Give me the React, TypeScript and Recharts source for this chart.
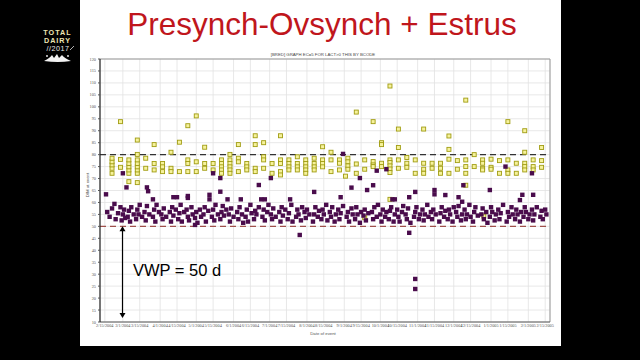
import React from "react";
import { ScatterChart, Scatter, XAxis, YAxis, CartesianGrid, ReferenceLine } from "recharts";

// Days since 2/15/2004 for each x tick
const xTickDays = [0, 15, 29, 46, 60, 76, 90, 107, 121, 137, 151, 168, 182, 199, 213, 229, 243, 260, 274, 290, 304, 321, 335, 352, 366];
const xTickLabels = [
  "2/15/2004", "3/1/2004", "3/15/2004", "4/1/2004", "4/15/2004", "5/1/2004", "5/15/2004",
  "6/1/2004", "6/15/2004", "7/1/2004", "7/15/2004", "8/1/2004", "8/15/2004", "9/1/2004",
  "9/15/2004", "10/1/2004", "10/15/2004", "11/1/2004", "11/15/2004", "12/1/2004", "12/15/2004",
  "1/1/2005", "1/15/2005", "2/1/2005", "2/15/2005",
];
const yTicks = [10, 15, 20, 25, 30, 35, 40, 45, 50, 55, 60, 65, 70, 75, 80, 85, 90, 95, 100, 105, 110, 115, 120];

const VWP_DIM = 50;
const TIMED_AI_LIMIT = 80;

// Timed AI breedings (yellow open squares): [day, DIM]
const timedAI: [number, number][] = [
  [6, 72.2], [6, 74.3], [6, 75.7], [6, 77], [6, 78.5],
  [13, 74.7], [13, 78], [13, 93.8],
  [20, 68.7], [20, 72.2], [20, 73.6], [20, 74.9], [20, 76.3], [20, 77.8],
  [27, 68.3], [27, 72.2], [27, 73.6], [27, 74.9], [27, 76.3], [27, 77.8], [27, 80.1], [27, 86.1],
  [34, 78.5], [34, 74.3],
  [41, 84.2], [41, 76.3], [41, 73.6],
  [48, 76.3], [48, 74.9], [48, 72.9],
  [55, 81], [55, 74.3], [55, 72.9],
  [62, 85.2], [62, 72.9],
  [69, 92.1], [69, 77.8], [69, 76.3], [69, 72.9],
  [76, 96.2], [76, 77], [76, 72.9],
  [83, 83.1], [83, 76.3], [83, 74.3],
  [90, 76.3], [90, 73.6],
  [97, 77.8], [97, 76.3], [97, 74.9], [97, 73.6], [97, 72.2],
  [104, 80.1], [104, 77.8], [104, 76.3], [104, 74.9], [104, 73.6], [104, 72.2],
  [111, 84.2], [111, 78.5], [111, 77], [111, 72.9],
  [118, 76.3], [118, 74.9], [118, 73.6],
  [125, 87.9], [125, 84.2], [125, 74.3], [125, 72.9],
  [132, 85], [132, 79.1], [132, 77.8], [132, 74.3],
  [139, 76.3], [139, 72.2],
  [146, 87.9], [146, 77.8], [146, 76.3], [146, 72.9], [146, 71.5],
  [153, 77.8], [153, 76.3], [153, 74.9], [153, 73.6],
  [160, 79.1], [160, 76.3], [160, 74.9], [160, 73.6],
  [167, 77.8], [167, 76.3], [167, 74.9], [167, 73.6], [167, 72.2],
  [174, 78.5], [174, 76.3], [174, 74.9], [174, 73.6],
  [181, 83.3], [181, 77.8], [181, 76.3], [181, 74.9],
  [188, 81], [188, 77.8], [188, 72.9],
  [195, 77.8], [195, 76.4], [195, 73.6],
  [200, 71],
  [202, 78.5], [202, 77], [202, 75.3], [202, 73.9],
  [209, 97.8], [209, 76.1], [209, 72.2],
  [216, 77.8], [216, 73.9], [216, 53.6],
  [223, 93.8], [223, 77.1], [223, 75.7], [223, 75],
  [230, 85], [230, 84.2], [230, 76.4], [230, 75],
  [237, 108.7], [237, 77.8], [237, 76.7], [237, 75.3], [237, 74], [237, 72.5], [237, 61.3],
  [244, 90.7], [244, 83], [244, 77.8], [244, 74.3],
  [251, 78.8], [251, 76.4], [251, 74.7],
  [258, 77.8], [258, 72.2],
  [265, 90.7], [265, 76.4], [265, 73.9], [265, 72.2],
  [272, 76.4], [272, 74.3],
  [279, 76.4], [279, 74.3], [279, 72.2],
  [286, 87.8], [286, 82.2], [286, 78.1], [286, 72.2],
  [293, 77.5], [293, 73.9],
  [300, 102.8], [300, 77.8], [300, 75], [300, 72.2], [300, 67.2],
  [307, 80], [307, 75],
  [314, 77.8], [314, 76.4], [314, 74.3], [314, 73.6], [315, 54.3],
  [321, 78.1], [321, 74.7], [321, 73.9],
  [328, 77.5], [328, 72.2],
  [335, 93.8], [335, 77.8], [335, 73.6], [335, 72.2],
  [342, 76.4], [342, 72.2],
  [349, 90], [349, 81], [349, 76.4], [349, 75], [349, 73.6],
  [356, 77.8], [356, 75], [356, 73.6],
  [363, 83], [363, 77.5], [363, 74.7],
];

// Estrus breedings (purple filled squares): [day, DIM]
const estrusAI: [number, number][] = [
  [2, 56], [4, 54], [6, 57.5], [8, 59.4], [9, 53], [11, 55.5],
  [13, 58], [14, 52.5], [15, 55], [16, 57], [17, 53.5],
  [19, 54], [20, 56.5], [21, 52], [22, 58], [24, 55],
  [26, 53], [27, 57], [28, 55], [29, 59], [31, 54],
  [33, 56], [34, 52.5], [35, 58.5], [37, 55],
  [40, 54], [41, 57], [42, 52], [43, 59], [45, 56],
  [47, 55], [48, 53], [49, 57.5], [51, 54],
  [54, 56], [55, 52], [56, 58], [57, 54.5], [59, 57],
  [61, 53], [62, 55.5], [63, 59], [64, 52], [66, 56],
  [68, 57], [69, 54], [70, 52.5], [72, 58], [73, 55],
  [75, 53.5], [76, 56], [77, 51.5], [79, 57], [80, 54],
  [82, 55], [83, 58], [84, 52], [86, 56.5],
  [89, 54], [90, 57], [91, 52.5], [92, 59], [94, 55],
  [96, 53], [97, 56], [98, 58.5], [99, 54.5], [101, 57],
  [103, 55], [104, 52], [105, 57.5], [107, 54],
  [110, 56], [111, 53], [112, 58], [114, 55], [115, 51.5],
  [117, 54], [118, 57], [119, 52], [121, 59], [122, 55.5],
  [124, 53], [125, 56.5], [126, 55], [128, 58],
  [131, 54], [132, 57], [133, 52.5], [135, 56], [136, 59],
  [138, 55], [139, 53], [140, 57.5], [142, 54],
  [145, 56], [146, 52], [147, 58], [148, 54.5], [150, 57],
  [152, 53], [153, 55.5], [155, 59], [156, 52],
  [159, 54], [160, 57], [161, 55], [163, 52.5], [164, 58],
  [166, 56], [167, 53.5], [168, 57], [170, 55],
  [173, 52], [174, 55], [175, 58], [177, 54], [178, 56.5],
  [180, 53], [181, 57], [182, 55], [184, 59], [185, 52.5],
  [187, 56], [188, 54], [189, 58], [191, 52], [192, 55],
  [194, 57], [195, 53], [196, 55.5], [198, 58.5],
  [201, 54], [202, 56], [203, 52], [205, 57.5], [206, 55],
  [208, 53], [209, 58], [210, 55], [212, 51.5], [213, 56],
  [215, 54.5], [216, 57], [217, 52.5], [219, 55.5],
  [222, 56], [223, 53], [224, 58], [226, 54], [227, 59],
  [229, 55], [230, 52], [231, 57], [233, 54], [234, 56],
  [236, 53], [237, 56.5], [238, 58], [240, 52], [241, 55],
  [243, 57], [244, 54], [245, 52], [247, 56], [248, 58.5],
  [250, 55], [251, 53], [252, 57.5], [254, 51.5],
  [257, 54], [258, 56], [259, 58], [261, 53], [262, 55],
  [264, 57], [265, 52.5], [266, 55], [268, 59], [269, 54],
  [271, 56], [272, 53], [273, 57], [275, 55],
  [278, 52], [279, 55.5], [280, 58], [282, 54], [283, 56.5],
  [285, 53], [286, 57], [287, 55], [289, 52], [290, 58],
  [292, 56], [293, 54], [294, 58.5], [296, 52.5], [297, 55],
  [299, 57], [300, 53], [301, 55], [303, 59], [304, 54],
  [306, 52], [307, 56], [308, 58], [310, 54.5],
  [313, 55], [314, 57.5], [315, 53], [317, 56], [318, 51.5],
  [320, 54], [321, 58], [322, 56], [324, 52.5], [325, 55],
  [327, 57], [328, 53], [329, 55.5], [331, 59],
  [334, 52], [335, 56], [336, 54], [338, 58], [339, 55],
  [341, 53], [342, 57], [343, 55], [345, 52], [346, 56],
  [348, 54], [349, 58], [350, 56], [352, 53], [353, 55],
  [355, 57], [356, 52.5], [357, 55], [359, 58],
  [362, 54], [363, 56.5], [364, 53], [366, 57], [367, 55],
  // outliers
  [1, 63.4], [15, 72.2], [18, 66.3], [35, 66.3], [36, 64.7], [40, 61.3], [57, 62.2], [60, 62.2],
  [69, 62.7], [69, 61.9], [75, 50.6], [87, 63.2], [87, 61.3], [90, 72.2], [96, 70.2], [96, 64.5],
  [102, 61.3], [113, 61.3], [128, 67.3], [130, 61.3], [133, 61.3], [138, 70.2], [154, 61.3],
  [162, 46.4], [174, 64.4], [196, 62.2], [198, 80.3], [205, 66.2], [212, 70.2], [218, 65.2],
  [223, 67.2], [226, 73.3], [234, 73.9], [239, 61.3], [241, 61.3], [253, 62.2], [253, 47.3],
  [258, 64.4], [258, 28], [258, 23.8], [274, 65.2], [274, 63.4], [283, 63.1], [294, 62.2],
  [297, 60.3], [298, 67.2], [320, 65.2], [333, 75], [345, 61], [347, 63.2], [355, 72.2], [356, 63.2],
];

const VWP_ARROW_DAY = 14.7;
const VWP_ARROW_BOTTOM = 11.7;

const timedData = timedAI.map(([day, dim]) => ({ day, dim }));
const estrusData = estrusAI.map(([day, dim]) => ({ day, dim }));

const YellowSquare = (p: any) => (
  <rect x={p.cx - 2} y={p.cy - 2} width={4} height={4} fill="#f6f29c" stroke="#a09c12" strokeWidth={0.9} />
);
const PurpleSquare = (p: any) => (
  <rect x={p.cx - 2.2} y={p.cy - 2.2} width={4.4} height={4.4} fill="#4a0c4c" />
);

const DoubleArrow = (p: any) => {
  const { x1, y1, x2, y2 } = p;
  return (
    <g>
      <line x1={x1} y1={y1 + 4} x2={x2} y2={y2 - 4} stroke="#000" strokeWidth={1.2} />
      <polygon points={`${x1},${y1} ${x1 - 3},${y1 + 5} ${x1 + 3},${y1 + 5}`} fill="#000" />
      <polygon points={`${x2},${y2} ${x2 - 3},${y2 - 5} ${x2 + 3},${y2 - 5}`} fill="#000" />
    </g>
  );
};

const tickFmt = (v: number) => {
  const i = xTickDays.indexOf(v);
  return i >= 0 ? xTickLabels[i] : "";
};

export default function App() {
  return (
    <div style={{ position: "absolute", left: 0, top: 0, width: 640, height: 360, background: "#000", overflow: "hidden" }}>
      <div style={{ position: "absolute", left: 80, top: 0, width: 481, height: 346, background: "#fff" }} />
      <div style={{ position: "absolute", left: 0, top: 0 }}>
        <ScatterChart width={640} height={360} margin={{ top: 59, right: 90, bottom: 24, left: 80 }}>
          <CartesianGrid stroke="#e2e2e2" strokeWidth={0.8} />
          <XAxis
            type="number"
            dataKey="day"
            domain={[-4, 370]}
            ticks={xTickDays}
            interval={0}
            tickFormatter={tickFmt}
            tick={{ fontSize: 4.3, fill: "#555" }}
            tickLine={false}
            tickSize={0}
            tickMargin={2}
            axisLine={{ stroke: "#555" }}
            height={14}
            allowDataOverflow
          />
          <YAxis
            type="number"
            dataKey="dim"
            domain={[10, 120]}
            ticks={yTicks}
            interval={0}
            tick={{ fontSize: 4.3, fill: "#555" }}
            tickLine={{ stroke: "#555" }}
            tickSize={2}
            axisLine={{ stroke: "#222", strokeWidth: 1.2 }}
            width={20}
            allowDataOverflow
          />
          <ReferenceLine y={120} stroke="#999" />
          <ReferenceLine x={370} stroke="#999" />
          <ReferenceLine y={TIMED_AI_LIMIT} stroke="#333" strokeWidth={1.4} strokeDasharray="6 4" />
          <ReferenceLine y={VWP_DIM} stroke="#a0504c" strokeWidth={1.4} strokeDasharray="6 4" />
          <Scatter data={timedData} shape={YellowSquare} isAnimationActive={false} />
          <Scatter data={estrusData} shape={PurpleSquare} isAnimationActive={false} />
          <ReferenceLine
            segment={[{ x: VWP_ARROW_DAY, y: VWP_DIM }, { x: VWP_ARROW_DAY, y: VWP_ARROW_BOTTOM }]}
            shape={DoubleArrow}
          />
        </ScatterChart>
      </div>
      <svg width={640} height={360} style={{ position: "absolute", left: 0, top: 0, pointerEvents: "none" }}>
        <text x={322} y={35} textAnchor="middle" fontFamily="Liberation Sans, Arial, sans-serif" fontSize={31.5} fill="#c0161c">
          Presynch-Ovsynch + Estrus
        </text>
        <text x={323} y={55.5} textAnchor="middle" fontFamily="Liberation Sans, Arial, sans-serif" fontSize={4.3} fill="#444">
          [BRED] GRAPH EC=5 FOR LACT&gt;0 THIS BY BCODE
        </text>
        <text x={323} y={335} textAnchor="middle" fontFamily="Liberation Sans, Arial, sans-serif" fontSize={4.3} fill="#555">
          Date of event
        </text>
        <text x={89} y={185} textAnchor="middle" fontFamily="Liberation Sans, Arial, sans-serif" fontSize={4.3} fill="#555" transform="rotate(-90 89 185)">
          DIM at event
        </text>
        <text x={133} y={276} fontFamily="Liberation Sans, Arial, sans-serif" fontSize={16.5} fill="#000">
          VWP = 50 d
        </text>
        {/* logo */}
        <text x={57.5} y={35} textAnchor="middle" fontFamily="Liberation Sans, Arial, sans-serif" fontWeight="bold" fontSize={7.2} letterSpacing={1} fill="#ece6b4">TOTAL</text>
        <text x={57.5} y={43} textAnchor="middle" fontFamily="Liberation Sans, Arial, sans-serif" fontWeight="bold" fontSize={7.2} letterSpacing={1} fill="#ece6b4">DAIRY</text>
        <text x={58} y={51} textAnchor="middle" fontFamily="Liberation Sans, Arial, sans-serif" fontSize={7.2} letterSpacing={0.5} fill="#e8e8e8">//2017</text>
        <path d="M70 50 L74 46" stroke="#ddd" strokeWidth={0.8} />
        <path d="M44 61 Q50 58 52 55 L54 58 L57 54 L59 58 L62 55 Q64 58 71 61 Q58 63 44 61 Z" fill="#f2f2f2" />
        <circle cx={47} cy={56} r={0.9} fill="#f2f2f2" />
        <circle cx={68} cy={56} r={0.9} fill="#f2f2f2" />
      </svg>
    </div>
  );
}
